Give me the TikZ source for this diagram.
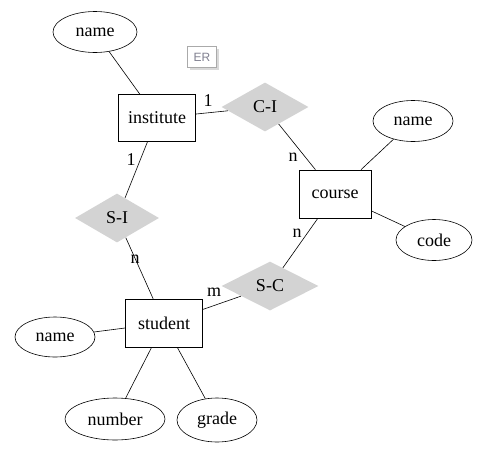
\documentclass[tikz,border=0pt]{standalone}
\usepackage{fontspec}
\setmainfont{Liberation Serif}
\newfontfamily\labelfont{Liberation Sans}
\usetikzlibrary{positioning, shapes.geometric, shadows}
\definecolor{relgray}{RGB}{211,211,211}
\definecolor{tagtext}{RGB}{128,128,144}
\definecolor{tagline}{RGB}{170,170,170}

\begin{document}
\begin{tikzpicture}[x=1pt, y=-1pt, inner sep=0pt, semithick,
      font=\rmfamily\fontsize{18}{20}\selectfont,
      entity/.style={rectangle, draw, minimum width=77pt, minimum height=47pt},
      attr/.style={ellipse, draw, minimum width=80pt, minimum height=41pt},
      rel/.style={diamond, fill=relgray, minimum width=87pt, minimum height=49pt},
      card/.style={font=\rmfamily\fontsize{18}{20}\selectfont},
      tag/.style={rectangle, draw=tagline, fill=white, text=tagtext,
        minimum width=29pt, minimum height=21pt,
        font=\labelfont\fontsize{12}{14}\selectfont,
        drop shadow={shadow xshift=2pt, shadow yshift=-2pt, fill=black!15, opacity=1}}]
      \useasboundingbox (0,0) rectangle (487,461);
      % institute and its name
      \node[entity](institute) at (157,118) {institute};
      \node[attr, minimum width=84pt](i_name) at (95,32) {name};
      \path (i_name) edge (institute);
      \node[tag](er) at (202,57) {ER};
      % course
      \node[entity, minimum width=72pt, minimum height=48pt](course) at (335,194) {course};
      \node[attr](c_name) at (413,121) {name};
      \node[attr, minimum width=76pt](c_code) at (434,240) {code};
      \path (course) edge (c_name);
      \path (course) edge (c_code);
      % student
      \node[entity, minimum height=48pt](student) at (164,323) {student};
      \node[attr, minimum width=80pt, minimum height=40pt](s_name) at (55,337) {name};
      \node[attr, minimum width=100pt, minimum height=42pt](s_number) at (115,419) {number};
      \node[attr, minimum height=44pt](s_grade) at (217,420) {grade};
      \path (student) edge (s_name);
      \path (student) edge (s_number);
      \path (student) edge (s_grade);
      % relations
      \node[rel](c_i) at (265,107) {C-I};
      \node[rel, minimum width=84pt](s_i) at (117,218) {S-I};
      \node[rel, minimum width=97pt](s_c) at (270,286) {S-C};
      \path (institute) edge (c_i);
      \path (c_i) edge (course);
      \path (institute) edge (s_i);
      \path (s_i) edge (student);
      \path (course) edge (s_c);
      \path (s_c) edge (student);
      % cardinalities
      \node[card](k_ic) at (208,101) {1};
      \node[card](k_ci) at (293,157) {n};
      \node[card](k_is) at (131,160) {1};
      \node[card](k_si) at (135,259) {n};
      \node[card](k_cs) at (297,233) {n};
      \node[card](k_sc) at (214,292) {m};
  \end{tikzpicture}
\end{document}
